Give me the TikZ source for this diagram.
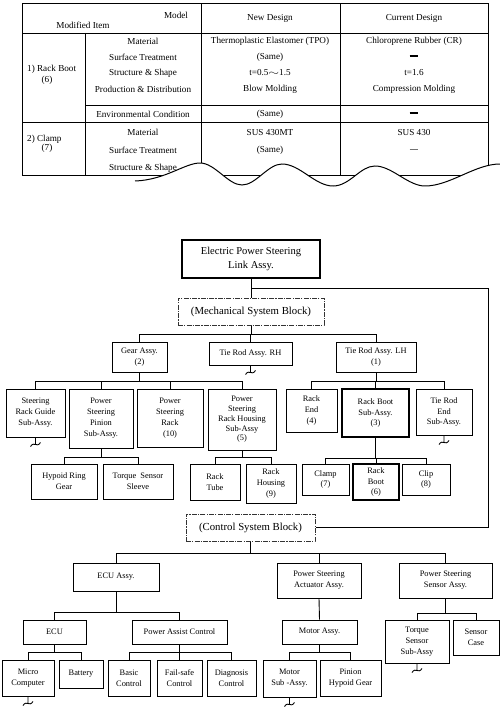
\documentclass[tikz,border=0pt]{standalone}
\usepackage{fontspec}
\setmainfont{Liberation Serif}
\tikzset{
  box/.style={draw, line width=1pt, inner sep=0pt, align=center, font=\fontsize{8.4}{11}\selectfont},
  heavybox/.style={line width=2.4pt},
  blockbox/.style={draw=black!80, line width=1pt, dash pattern=on 5pt off 1.2pt on 1.2pt off 1.2pt, inner sep=0pt, font=\fontsize{10.8}{12}\selectfont},
  conn/.style={line width=0.9pt},
  tline/.style={line width=0.8pt},
  ttext/.style={font=\fontsize{9.2}{10}\selectfont, inner sep=0pt}
}
\newcommand\bx[7][]{\node[box,#1,minimum width={(#5-#3)*1bp},minimum height={(#6-#4)*1bp}] (#2) at ({(#3+#5)/2},{(#4+#6)/2}) {#7};}
\newcommand\brk[1]{\draw[conn] (#1.south) -- ++(0,7) ++(-5,2) .. controls +(4,-6) and +(-4,6) .. ++(10,-4);}
\begin{document}
\begin{tikzpicture}[x=1bp,y=-1bp]
\useasboundingbox (0,0) rectangle (500,707);
% ---------------- table ----------------
\draw[line width=1pt] (22,4) rectangle (488,175);
\draw[tline] (22,33) -- (488,33);
\draw[tline] (85,33) -- (85,175);
\draw[tline] (201,4) -- (201,175);
\draw[tline] (340,4) -- (340,175);
\draw[tline] (85,105) -- (488,105);
\draw[tline] (22,122) -- (488,122);
\node[ttext] (hmodel) at (176,15) {Model};
\node[ttext] (hitem) at (83,25) {Modified Item};
\node[ttext] (hnew) at (270,18) {New Design};
\node[ttext] (hcur) at (414,18) {Current Design};
\node[ttext,anchor=west] (rbA) at (27,69) {1) Rack Boot};
\node[ttext] (rbB) at (47,80) {(6)};
\node[ttext,anchor=west] (clA) at (27,139) {2) Clamp};
\node[ttext] (clB) at (47,148) {(7)};
\node[ttext] (i1) at (143,41) {Material};
\node[ttext] (i2) at (143,57) {Surface Treatment};
\node[ttext] (i3) at (143,73) {Structure \& Shape};
\node[ttext] (i4) at (143,89) {Production \& Distribution};
\node[ttext] (i5) at (143,114) {Environmental Condition};
\node[ttext] (i6) at (143,132) {Material};
\node[ttext] (i7) at (143,150) {Surface Treatment};
\node[ttext] (i8) at (143,168) {Structure \& Shape};
\node[ttext] (n1) at (270,41) {Thermoplastic Elastomer (TPO)};
\node[ttext] (n2) at (270,57) {(Same)};
\node[ttext] (n3) at (270,73) {t=0.5\scalebox{1.5}[1]{$\sim$}1.5};
\node[ttext] (n4) at (270,89) {Blow Molding};
\node[ttext] (n5) at (270,114) {(Same)};
\node[ttext] (n6) at (270,132) {SUS 430MT};
\node[ttext] (n7) at (270,150) {(Same)};
\node[ttext] (c1) at (414,41) {Chloroprene Rubber (CR)};
\node[ttext] (c2) at (414,57) {\rule[2.2pt]{9pt}{1.2pt}};
\node[ttext] (c3) at (414,73) {t=1.6};
\node[ttext] (c4) at (414,89) {Compression Molding};
\node[ttext] (c5) at (414,114) {\rule[2.2pt]{9pt}{1.2pt}};
\node[ttext] (c6) at (414,132) {SUS 430};
\node[ttext] (c7) at (414,150) {\textcolor{black!55}{\rule[2.2pt]{9pt}{0.6pt}}};
% wave break
\fill[white] (135,181) .. controls (165,180) and (185,163) .. (200,163)
  .. controls (215,163) and (228,185) .. (242,185)
  .. controls (256,185) and (268,164) .. (282,164)
  .. controls (300,164) and (315,186) .. (333,186)
  .. controls (350,186) and (360,166) .. (375,166)
  .. controls (392,166) and (408,186) .. (425,186)
  .. controls (450,186) and (475,164) .. (500,164)
  -- (500,200) -- (135,200) -- cycle;
\draw[line width=1pt] (135,181) .. controls (165,180) and (185,163) .. (200,163)
  .. controls (215,163) and (228,185) .. (242,185)
  .. controls (256,185) and (268,164) .. (282,164)
  .. controls (300,164) and (315,186) .. (333,186)
  .. controls (350,186) and (360,166) .. (375,166)
  .. controls (392,166) and (408,186) .. (425,186)
  .. controls (450,186) and (475,164) .. (500,164);
% ---------------- tree ----------------
\bx[line width=1.8pt,font=\fontsize{10.6}{13.5}\selectfont]{top}{182}{240}{320}{278}{Electric Power Steering\\Link Assy.}
\node[blockbox,minimum width=146bp,minimum height=27bp] (mech) at (251,311.5) {(Mechanical System Block)};
\node[blockbox,minimum width=129bp,minimum height=27bp] (ctrl) at (250.5,527.5) {(Control System Block)};
\coordinate (rt) at (488,527.5);
\draw[conn] (top.south) -- (mech.north);
\draw[conn] (top.south) -- ++(0,10) -| (rt) -- (ctrl.east);
% mechanical level
\bx{gear}{112}{342}{167}{372}{Gear Assy.\\(2)}
\bx{trrh}{209}{342}{292}{365}{Tie Rod Assy. RH}
\bx{trlh}{336}{342}{416}{372}{Tie Rod Assy. LH\\(1)}
\foreach \c in {gear,trrh,trlh} \draw[conn] (mech.south) -- ++(0,9) -| (\c.north);
% gear children
\bx{srg}{6}{389}{65}{437}{Steering\\Rack Guide\\Sub-Assy.}
\bx{psp}{69}{389}{133}{448}{Power\\Steering\\Pinion\\Sub-Assy.}
\bx{psr}{137}{389}{203}{447}{Power\\Steering\\Rack\\(10)}
\bx[font=\fontsize{8.4}{9.8}\selectfont]{psh}{208}{389}{276}{450}{Power\\Steering\\Rack Housing\\Sub-Assy\\(5)}
\foreach \c in {srg,psp,psr,psh} \draw[conn] (gear.south) -- ++(0,9) -| (\c.north);
% pinion children
\bx{hrg}{31}{464}{97}{499}{Hypoid Ring\\Gear}
\bx{tss}{103}{464}{173}{499}{Torque\ \ Sensor\\Sleeve}
\foreach \c in {hrg,tss} \draw[conn] (psp.south) -- ++(0,9) -| (\c.north);
% rack housing children
\bx{rtube}{190}{464}{240}{500}{Rack\\Tube}
\bx{rhous}{246}{464}{296}{503}{Rack\\Housing\\(9)}
\foreach \c in {rtube,rhous} \draw[conn] (psh.south) -- ++(0,7) -| (\c.north);
% tie rod LH children
\bx{rend}{286}{389}{337}{432}{Rack\\End\\(4)}
\bx[heavybox]{rbs}{342}{389}{409}{437}{Rack Boot\\Sub-Assy.\\(3)}
\bx{tres}{416}{389}{472}{435}{Tie Rod\\End\\Sub-Assy.}
\foreach \c in {rend,rbs,tres} \draw[conn] (trlh.south) -- ++(0,9) -| (\c.north);
% rack boot children
\bx{clamp}{302}{464}{349}{495}{Clamp\\(7)}
\bx[heavybox]{rboot}{353}{464}{399}{500}{Rack\\Boot\\(6)}
\bx{clip}{402}{464}{450}{495}{Clip\\(8)}
\foreach \c in {clamp,rboot,clip} \draw[conn] (rbs.south) -- ++(0,20) -| (\c.north);
% control level
\bx{ecua}{73}{563}{159}{591}{ECU Assy.}
\bx{act}{277}{563}{361}{598}{Power Steering\\Actuator Assy.}
\bx{sens}{399}{563}{492}{598}{Power Steering\\Sensor Assy.}
\foreach \c in {ecua,act,sens} \draw[conn] (ctrl.south) -- ++(0,12) -| (\c.north);
% ecu assy children
\bx{ecu}{23}{620}{86}{644}{ECU}
\bx{pac}{132}{620}{227}{644}{Power Assist Control}
\foreach \c in {ecu,pac} \draw[conn] (ecua.south) -- ++(0,21) -| (\c.north);
\bx{micro}{2}{660}{54}{696}{Micro\\Computer}
\bx{batt}{59}{660}{103}{688}{Battery}
\foreach \c in {micro,batt} \draw[conn] (ecu.south) -- ++(0,8) -| (\c.north);
\bx{basic}{108}{660}{150}{696}{Basic\\Control}
\bx{fail}{157}{660}{202}{696}{Fail-safe\\Control}
\bx{diag}{207}{660}{256}{696}{Diagnosis\\Control}
\foreach \c in {basic,fail,diag} \draw[conn] (pac.south) -- ++(0,8) -| (\c.north);
% actuator
\bx{motor}{282}{620}{357}{644}{Motor Assy.}
\draw[conn] (act.south) -- (motor.north);
\bx{msub}{263}{660}{316}{697}{Motor\\Sub -Assy.}
\bx{phg}{320}{660}{381}{696}{Pinion\\Hypoid Gear}
\foreach \c in {msub,phg} \draw[conn] (motor.south) -- ++(0,8) -| (\c.north);
% sensor
\bx{tssub}{385}{620}{449}{663}{Torque\\Sensor\\Sub-Assy}
\bx{scase}{453}{620}{499}{655}{Sensor\\Case}
\foreach \c in {tssub,scase} \draw[conn] (sens.south) -- ++(0,15) -| (\c.north);
% break marks
\brk{trrh}
\brk{srg}
\brk{tres}
\brk{micro}
\brk{msub}
\brk{tssub}
\end{tikzpicture}
\end{document}
